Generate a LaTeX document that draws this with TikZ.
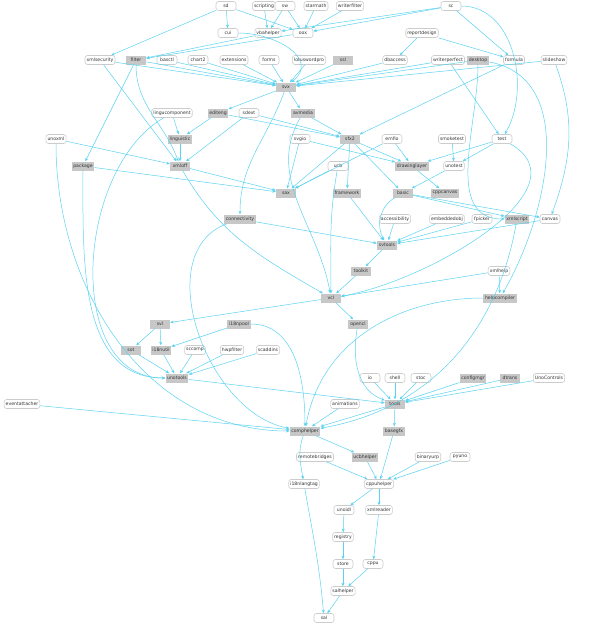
\documentclass[tikz,border=0pt]{standalone}
\usepackage{fontspec}
\setmainfont{DejaVu Sans}
\usetikzlibrary{arrows.meta}
\definecolor{edge}{RGB}{90,210,240}
\begin{document}
\begin{tikzpicture}[x=1pt,y=-1pt,
 every node/.style={font=\fontsize{4.6}{5}\selectfont,inner sep=1.6pt,minimum height=9pt,text=black!80},
 w/.style={draw=black!20,fill=white,rounded corners=2.5pt,line width=0.6pt,minimum width=20pt},
 g/.style={fill=black!22,minimum width=20pt},
 e/.style={draw=edge,line width=0.5pt,-{Stealth[length=3.5pt,width=3pt]}}]
\useasboundingbox (0,0) rectangle (600,625);
\node[w] (sd) at (226,6) {sd};
\node[w] (scripting) at (264,6) {scripting};
\node[w] (sw) at (285,6) {sw};
\node[w] (starmath) at (316,6) {starmath};
\node[w] (writerfilter) at (350,6) {writerfilter};
\node[w] (sc) at (451,6) {sc};
\node[w] (cui) at (228,33) {cui};
\node[w] (vbahelper) at (268,33) {vbahelper};
\node[w] (oox) at (303,33) {oox};
\node[w] (reportdesign) at (422,33) {reportdesign};
\node[w] (xmlsecurity) at (100,60) {xmlsecurity};
\node[g] (filter) at (136,60) {filter};
\node[w] (basctl) at (167,60) {basctl};
\node[w] (chart2) at (198,60) {chart2};
\node[w] (extensions) at (234,60) {extensions};
\node[w] (forms) at (269,60) {forms};
\node[w] (lotuswordpro) at (309,60) {lotuswordpro};
\node[g] (ssl) at (343,60) {ssl};
\node[w] (dbaccess) at (395,60) {dbaccess};
\node[w] (writerperfect) at (448,60) {writerperfect};
\node[g] (desktop) at (478,60) {desktop};
\node[w] (formula) at (514,60) {formula};
\node[w] (slideshow) at (554,60) {slideshow};
\node[g] (svx) at (286,87) {svx};
\node[w] (lingucomponent) at (172,113) {lingucomponent};
\node[g] (editeng) at (218,113) {editeng};
\node[w] (sdext) at (249,113) {sdext};
\node[g] (avmedia) at (303,113) {avmedia};
\node[w] (unoxml) at (56,139) {unoxml};
\node[g] (linguistic) at (180,139) {linguistic};
\node[w] (svgio) at (300,139) {svgio};
\node[g] (sfx2) at (350,139) {sfx2};
\node[w] (emfio) at (392,139) {emfio};
\node[w] (smoketest) at (452,139) {smoketest};
\node[w] (test) at (502,139) {test};
\node[g] (package) at (83,166) {package};
\node[g] (xmloff) at (180,166) {xmloff};
\node[w] (ucb) at (338,166) {ucb};
\node[g] (drawinglayer) at (412,166) {drawinglayer};
\node[w] (unotest) at (454,166) {unotest};
\node[g] (sax) at (286,193) {sax};
\node[g] (framework) at (347,193) {framework};
\node[g] (basic) at (403,193) {basic};
\node[g] (cppcanvas) at (445,193) {cppcanvas};
\node[g] (connectivity) at (240,219) {connectivity};
\node[w] (accessibility) at (395,219) {accessibility};
\node[w] (embeddedobj) at (447,219) {embeddedobj};
\node[w] (fpicker) at (482,219) {fpicker};
\node[g] (xmlscript) at (517,219) {xmlscript};
\node[w] (canvas) at (550,219) {canvas};
\node[g] (svtools) at (387,245) {svtools};
\node[g] (toolkit) at (361,271) {toolkit};
\node[w] (xmlhelp) at (499,271) {xmlhelp};
\node[g] (vcl) at (331,298) {vcl};
\node[g] (helpcompiler) at (500,298) {helpcompiler};
\node[g] (svl) at (160,324) {svl};
\node[g] (i18npool) at (239,324) {i18npool};
\node[g] (opencl) at (358,324) {opencl};
\node[g] (sot) at (131,350) {sot};
\node[g] (i18nutil) at (161,350) {i18nutil};
\node[w] (sccomp) at (195,350) {sccomp};
\node[w] (hwpfilter) at (232,350) {hwpfilter};
\node[w] (scaddins) at (268,350) {scaddins};
\node[g] (unotools) at (177,378) {unotools};
\node[w] (io) at (370,378) {io};
\node[w] (shell) at (395,378) {shell};
\node[w] (stoc) at (421,378) {stoc};
\node[g] (configmgr) at (473,378) {configmgr};
\node[g] (dtrans) at (510,378) {dtrans};
\node[w] (UnoControls) at (549,378) {UnoControls};
\node[w] (eventattacher) at (22,404) {eventattacher};
\node[w] (animations) at (345,404) {animations};
\node[g] (tools) at (395,404) {tools};
\node[g] (comphelper) at (305,431) {comphelper};
\node[g] (basegfx) at (394,431) {basegfx};
\node[w] (remotebridges) at (315,457) {remotebridges};
\node[g] (ucbhelper) at (365,457) {ucbhelper};
\node[w] (binaryurp) at (428,457) {binaryurp};
\node[w] (pyuno) at (460,457) {pyuno};
\node[w] (i18nlangtag) at (304,484) {i18nlangtag};
\node[w] (cppuhelper) at (379,484) {cppuhelper};
\node[w] (unoidl) at (344,510) {unoidl};
\node[w] (xmlreader) at (379,510) {xmlreader};
\node[w] (registry) at (343,537) {registry};
\node[w] (store) at (343,564) {store};
\node[w] (cppu) at (373,564) {cppu};
\node[w] (salhelper) at (343,591) {salhelper};
\node[w] (sal) at (324,618) {sal};
\begin{scope}[every path/.style={e}]
\draw (sd) -- (cui); \draw (sd) -- (oox); \draw (sd) -- (xmlsecurity);
\draw (scripting) -- (vbahelper); \draw (sw) -- (vbahelper); \draw (sw) -- (oox);
\draw (starmath) -- (oox); \draw (writerfilter) -- (oox);
\draw (sc) -- (oox); \draw (sc) -- (vbahelper); \draw (sc) -- (formula);
\draw (sc) to[out=0,in=60] (test);
\draw (oox) -- (filter); \draw (vbahelper) -- (filter);
\draw (cui) to[out=0,in=40,looseness=1.3] (svx);
\draw (reportdesign) -- (dbaccess); \draw (reportdesign) -- (formula);
\foreach \s in {xmlsecurity,filter,basctl,chart2,extensions,forms,lotuswordpro,ssl,dbaccess,writerperfect,desktop,slideshow} \draw (\s) -- (svx);
\draw (formula) -- (sfx2); \draw (writerperfect) -- (test);
\draw (desktop) to[out=-90,in=180] (xmlscript);
\draw (desktop) to[out=-10,in=60] (helpcompiler);
\draw (slideshow) to[out=-70,in=70] (canvas);
\draw (xmlsecurity) -- (xmloff); \draw (filter) -- (package); \draw (filter) to[out=-90,in=110] (xmloff);
\draw (svx) -- (editeng); \draw (svx) -- (avmedia); \draw (svx) to[out=-110,in=90] (connectivity);
\draw (lingucomponent) -- (linguistic); \draw (lingucomponent) to[out=-150,in=180] (unotools);
\draw (editeng) -- (linguistic); \draw (editeng) -- (sfx2);
\draw (sdext) -- (xmloff); \draw (sdext) -- (sfx2);
\draw (avmedia) -- (sfx2); \draw (avmedia) to[out=-120,in=100] (vcl);
\draw (unoxml) -- (xmloff); \draw (unoxml) to[out=-90,in=180] (comphelper);
\draw (package) -- (sax); \draw (package) to[out=-90,in=180] (unotools);
\draw (linguistic) -- (xmloff); \draw (xmloff) -- (sax); \draw (xmloff) to[out=-60,in=150] (vcl);
\draw (svgio) -- (drawinglayer); \draw (svgio) -- (sax);
\draw (sfx2) -- (framework); \draw (sfx2) -- (drawinglayer); \draw (sfx2) -- (basic); \draw (sfx2) -- (sax);
\draw (emfio) -- (drawinglayer); \draw (emfio) -- (sax);
\draw (smoketest) -- (unotest); \draw (test) -- (drawinglayer); \draw (test) -- (unotest);
\draw (test) to[out=-30,in=10] (vcl);
\draw (ucb) -- (sax); \draw (ucb) to[out=-100,in=90] (vcl);
\draw (drawinglayer) -- (cppcanvas); \draw (unotest) -- (basic);
\draw (basic) -- (xmlscript); \draw (basic) -- (canvas); \draw (basic) to[out=-150,in=120] (svtools);
\draw (framework) -- (svtools);
\draw (connectivity) -- (svtools); \draw (connectivity) to[out=-160,in=170] (comphelper);
\draw (accessibility) -- (svtools); \draw (embeddedobj) -- (svtools); \draw (fpicker) -- (svtools);
\draw (canvas) -- (svtools);
\draw (xmlscript) to[out=-100,in=10] (comphelper);
\draw (svtools) -- (toolkit); \draw (toolkit) -- (vcl);
\draw (xmlhelp) -- (helpcompiler); \draw (xmlhelp) -- (vcl);
\draw (helpcompiler) to[out=180,in=80] (comphelper);
\draw (vcl) -- (opencl); \draw (vcl) -- (svl); \draw (opencl) to[out=-100,in=160] (tools);
\draw (i18npool) -- (i18nutil); \draw (i18npool) to[out=0,in=90] (comphelper);
\draw (svl) -- (sot); \draw (svl) -- (i18nutil);
\foreach \s in {sot,i18nutil,sccomp,hwpfilter,scaddins} \draw (\s) -- (unotools);
\draw (unotools) -- (tools);
\foreach \s in {io,shell,stoc,configmgr,dtrans,UnoControls} \draw (\s) -- (tools);
\draw (tools) -- (basegfx); \draw (tools) -- (comphelper);
\draw (animations) -- (comphelper); \draw (eventattacher) -- (comphelper);
\draw (comphelper) -- (ucbhelper); \draw (comphelper) to[out=-110,in=100] (i18nlangtag);
\foreach \s in {ucbhelper,remotebridges,basegfx,binaryurp,pyuno} \draw (\s) -- (cppuhelper);
\draw (cppuhelper) -- (unoidl); \draw (cppuhelper) -- (xmlreader);
\draw (unoidl) -- (registry); \draw (registry) -- (store); \draw (store) -- (salhelper);
\draw (xmlreader) -- (cppu); \draw (cppu) -- (salhelper);
\draw (salhelper) -- (sal); \draw (i18nlangtag) to[out=-80,in=95] (sal);
\end{scope}
\end{tikzpicture}
\end{document}
